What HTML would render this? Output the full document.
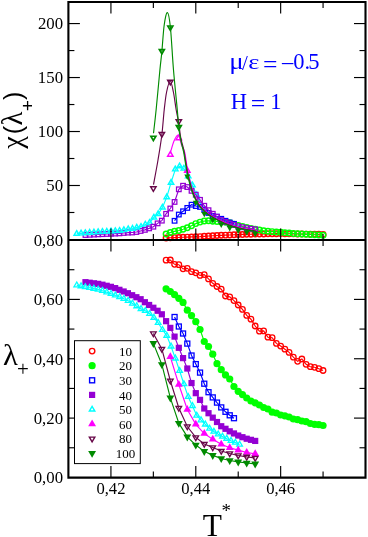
<!DOCTYPE html>
<html><head><meta charset="utf-8"><title>plot</title>
<style>html,body{margin:0;padding:0;background:#fff;width:368px;height:537px;overflow:hidden}svg{display:block}</style>
</head><body>
<svg width="368" height="537" viewBox="0 0 368 537">
<rect width="368" height="537" fill="#fff"/>
<g><path d="M166.09 237.96 L170.33 237.79 L174.57 237.62 L178.82 237.45 L183.06 237.28 L187.3 237.11 L191.54 236.94 L195.79 236.77 L200.03 236.6 L204.27 236.32 L208.52 236.03 L212.76 235.75 L217 235.51 L221.24 235.33 L225.49 235.14 L229.73 234.95 L233.97 234.77 L238.22 234.58 L242.46 234.44 L246.7 234.33 L250.94 234.23 L255.19 234.12 L259.43 234.01 L263.67 233.93 L267.92 233.84 L272.16 233.76 L276.4 233.67 L280.65 233.61 L284.89 233.7 L289.13 233.78 L293.37 233.87 L297.62 233.95 L301.86 234.03 L306.1 234.1 L310.35 234.17 L314.59 234.24 L318.83 234.31 L323.07 234.38" fill="none" stroke="#ff0000" stroke-width="1.15"/>
<circle cx="166.09" cy="237.96" r="2.75" fill="none" stroke="#ff0000" stroke-width="1.45"/>
<circle cx="170.33" cy="237.79" r="2.75" fill="none" stroke="#ff0000" stroke-width="1.45"/>
<circle cx="174.57" cy="237.62" r="2.75" fill="none" stroke="#ff0000" stroke-width="1.45"/>
<circle cx="178.82" cy="237.45" r="2.75" fill="none" stroke="#ff0000" stroke-width="1.45"/>
<circle cx="183.06" cy="237.28" r="2.75" fill="none" stroke="#ff0000" stroke-width="1.45"/>
<circle cx="187.3" cy="237.11" r="2.75" fill="none" stroke="#ff0000" stroke-width="1.45"/>
<circle cx="191.54" cy="236.94" r="2.75" fill="none" stroke="#ff0000" stroke-width="1.45"/>
<circle cx="195.79" cy="236.77" r="2.75" fill="none" stroke="#ff0000" stroke-width="1.45"/>
<circle cx="200.03" cy="236.6" r="2.75" fill="none" stroke="#ff0000" stroke-width="1.45"/>
<circle cx="204.27" cy="236.32" r="2.75" fill="none" stroke="#ff0000" stroke-width="1.45"/>
<circle cx="208.52" cy="236.03" r="2.75" fill="none" stroke="#ff0000" stroke-width="1.45"/>
<circle cx="212.76" cy="235.75" r="2.75" fill="none" stroke="#ff0000" stroke-width="1.45"/>
<circle cx="217" cy="235.51" r="2.75" fill="none" stroke="#ff0000" stroke-width="1.45"/>
<circle cx="221.24" cy="235.33" r="2.75" fill="none" stroke="#ff0000" stroke-width="1.45"/>
<circle cx="225.49" cy="235.14" r="2.75" fill="none" stroke="#ff0000" stroke-width="1.45"/>
<circle cx="229.73" cy="234.95" r="2.75" fill="none" stroke="#ff0000" stroke-width="1.45"/>
<circle cx="233.97" cy="234.77" r="2.75" fill="none" stroke="#ff0000" stroke-width="1.45"/>
<circle cx="238.22" cy="234.58" r="2.75" fill="none" stroke="#ff0000" stroke-width="1.45"/>
<circle cx="242.46" cy="234.44" r="2.75" fill="none" stroke="#ff0000" stroke-width="1.45"/>
<circle cx="246.7" cy="234.33" r="2.75" fill="none" stroke="#ff0000" stroke-width="1.45"/>
<circle cx="250.94" cy="234.23" r="2.75" fill="none" stroke="#ff0000" stroke-width="1.45"/>
<circle cx="255.19" cy="234.12" r="2.75" fill="none" stroke="#ff0000" stroke-width="1.45"/>
<circle cx="259.43" cy="234.01" r="2.75" fill="none" stroke="#ff0000" stroke-width="1.45"/>
<circle cx="263.67" cy="233.93" r="2.75" fill="none" stroke="#ff0000" stroke-width="1.45"/>
<circle cx="267.92" cy="233.84" r="2.75" fill="none" stroke="#ff0000" stroke-width="1.45"/>
<circle cx="272.16" cy="233.76" r="2.75" fill="none" stroke="#ff0000" stroke-width="1.45"/>
<circle cx="276.4" cy="233.67" r="2.75" fill="none" stroke="#ff0000" stroke-width="1.45"/>
<circle cx="280.65" cy="233.61" r="2.75" fill="none" stroke="#ff0000" stroke-width="1.45"/>
<circle cx="284.89" cy="233.7" r="2.75" fill="none" stroke="#ff0000" stroke-width="1.45"/>
<circle cx="289.13" cy="233.78" r="2.75" fill="none" stroke="#ff0000" stroke-width="1.45"/>
<circle cx="293.37" cy="233.87" r="2.75" fill="none" stroke="#ff0000" stroke-width="1.45"/>
<circle cx="297.62" cy="233.95" r="2.75" fill="none" stroke="#ff0000" stroke-width="1.45"/>
<circle cx="301.86" cy="234.03" r="2.75" fill="none" stroke="#ff0000" stroke-width="1.45"/>
<circle cx="306.1" cy="234.1" r="2.75" fill="none" stroke="#ff0000" stroke-width="1.45"/>
<circle cx="310.35" cy="234.17" r="2.75" fill="none" stroke="#ff0000" stroke-width="1.45"/>
<circle cx="314.59" cy="234.24" r="2.75" fill="none" stroke="#ff0000" stroke-width="1.45"/>
<circle cx="318.83" cy="234.31" r="2.75" fill="none" stroke="#ff0000" stroke-width="1.45"/>
<circle cx="323.07" cy="234.38" r="2.75" fill="none" stroke="#ff0000" stroke-width="1.45"/>
<path d="M166.09 234.06 L170.33 232.47 L174.57 231.32 L178.82 230.44 L183.06 229.3 L187.3 227.84 L191.54 225.7 L195.79 223.61 L200.03 222.12 L204.27 221.06 L208.52 220.8 L212.76 221.2 L217 221.5 L221.24 221.92 L225.49 222.23 L229.73 222.8 L233.97 224.1 L238.22 225.44 L242.46 226.47 L246.7 227.57 L250.94 228.45 L255.19 229.28 L259.43 230.09 L263.67 230.72 L267.92 231.25 L272.16 231.63 L276.4 231.95 L280.65 232.3 L284.89 232.66 L289.13 233.04 L293.37 233.41 L297.62 233.79 L301.86 234.09 L306.1 234.31 L310.35 234.52 L314.59 234.73 L318.83 234.95 L323.07 235.16" fill="none" stroke="#00ff00" stroke-width="1.15"/>
<circle cx="166.09" cy="234.06" r="2.75" fill="none" stroke="#00ff00" stroke-width="1.45"/>
<circle cx="170.33" cy="232.47" r="2.75" fill="none" stroke="#00ff00" stroke-width="1.45"/>
<circle cx="174.57" cy="231.32" r="2.75" fill="none" stroke="#00ff00" stroke-width="1.45"/>
<circle cx="178.82" cy="230.44" r="2.75" fill="none" stroke="#00ff00" stroke-width="1.45"/>
<circle cx="183.06" cy="229.3" r="2.75" fill="none" stroke="#00ff00" stroke-width="1.45"/>
<circle cx="187.3" cy="227.84" r="2.75" fill="none" stroke="#00ff00" stroke-width="1.45"/>
<circle cx="191.54" cy="225.7" r="2.75" fill="none" stroke="#00ff00" stroke-width="1.45"/>
<circle cx="195.79" cy="223.61" r="2.75" fill="none" stroke="#00ff00" stroke-width="1.45"/>
<circle cx="200.03" cy="222.12" r="2.75" fill="none" stroke="#00ff00" stroke-width="1.45"/>
<circle cx="204.27" cy="221.06" r="2.75" fill="none" stroke="#00ff00" stroke-width="1.45"/>
<circle cx="208.52" cy="220.8" r="2.75" fill="none" stroke="#00ff00" stroke-width="1.45"/>
<circle cx="212.76" cy="221.2" r="2.75" fill="none" stroke="#00ff00" stroke-width="1.45"/>
<circle cx="217" cy="221.5" r="2.75" fill="none" stroke="#00ff00" stroke-width="1.45"/>
<circle cx="221.24" cy="221.92" r="2.75" fill="none" stroke="#00ff00" stroke-width="1.45"/>
<circle cx="225.49" cy="222.23" r="2.75" fill="none" stroke="#00ff00" stroke-width="1.45"/>
<circle cx="229.73" cy="222.8" r="2.75" fill="none" stroke="#00ff00" stroke-width="1.45"/>
<circle cx="233.97" cy="224.1" r="2.75" fill="none" stroke="#00ff00" stroke-width="1.45"/>
<circle cx="238.22" cy="225.44" r="2.75" fill="none" stroke="#00ff00" stroke-width="1.45"/>
<circle cx="242.46" cy="226.47" r="2.75" fill="none" stroke="#00ff00" stroke-width="1.45"/>
<circle cx="246.7" cy="227.57" r="2.75" fill="none" stroke="#00ff00" stroke-width="1.45"/>
<circle cx="250.94" cy="228.45" r="2.75" fill="none" stroke="#00ff00" stroke-width="1.45"/>
<circle cx="255.19" cy="229.28" r="2.75" fill="none" stroke="#00ff00" stroke-width="1.45"/>
<circle cx="259.43" cy="230.09" r="2.75" fill="none" stroke="#00ff00" stroke-width="1.45"/>
<circle cx="263.67" cy="230.72" r="2.75" fill="none" stroke="#00ff00" stroke-width="1.45"/>
<circle cx="267.92" cy="231.25" r="2.75" fill="none" stroke="#00ff00" stroke-width="1.45"/>
<circle cx="272.16" cy="231.63" r="2.75" fill="none" stroke="#00ff00" stroke-width="1.45"/>
<circle cx="276.4" cy="231.95" r="2.75" fill="none" stroke="#00ff00" stroke-width="1.45"/>
<circle cx="280.65" cy="232.3" r="2.75" fill="none" stroke="#00ff00" stroke-width="1.45"/>
<circle cx="284.89" cy="232.66" r="2.75" fill="none" stroke="#00ff00" stroke-width="1.45"/>
<circle cx="289.13" cy="233.04" r="2.75" fill="none" stroke="#00ff00" stroke-width="1.45"/>
<circle cx="293.37" cy="233.41" r="2.75" fill="none" stroke="#00ff00" stroke-width="1.45"/>
<circle cx="297.62" cy="233.79" r="2.75" fill="none" stroke="#00ff00" stroke-width="1.45"/>
<circle cx="301.86" cy="234.09" r="2.75" fill="none" stroke="#00ff00" stroke-width="1.45"/>
<circle cx="306.1" cy="234.31" r="2.75" fill="none" stroke="#00ff00" stroke-width="1.45"/>
<circle cx="310.35" cy="234.52" r="2.75" fill="none" stroke="#00ff00" stroke-width="1.45"/>
<circle cx="314.59" cy="234.73" r="2.75" fill="none" stroke="#00ff00" stroke-width="1.45"/>
<circle cx="318.83" cy="234.95" r="2.75" fill="none" stroke="#00ff00" stroke-width="1.45"/>
<circle cx="323.07" cy="235.16" r="2.75" fill="none" stroke="#00ff00" stroke-width="1.45"/>
<path d="M76.75 233.68 L81.04 233.33 L85.32 232.98 L89.61 232.63 L93.89 232.34 L98.18 232.06 L102.46 231.82 L106.75 231.58 L111.03 231.32 L115.32 231.01 L119.61 230.7 L123.89 229.94 L128.18 229.08 L132.46 228.62 L136.75 227.51 L141.03 226.68 L145.32 224.46 L149.6 222.8 L153.89 217.44 L158.18 213.99 L162.46 207.47 L166.75 197.12 L171.03 182.61 L175.32 169.32 L179.6 166.28 L183.89 168.44 L188.17 176.22 L192.46 185.25 L196.74 195.14 L201.03 204.43 L205.32 209.32 L209.6 212.94 L213.89 215.63 L218.17 218.04 L222.46 220.15 L226.74 222.13 L231.03 223.71 L235.31 225 L239.6 226.2" fill="none" stroke="#00ffff" stroke-width="1.15" stroke-linejoin="round"/>
<path d="M141.03 223.59 L138.34 228.23 L143.73 228.23 Z" fill="none" stroke="#00ffff" stroke-width="1.45" stroke-linejoin="miter"/>
<path d="M145.32 221.36 L142.62 226 L148.01 226 Z" fill="none" stroke="#00ffff" stroke-width="1.45" stroke-linejoin="miter"/>
<path d="M149.6 219.71 L146.91 224.35 L152.3 224.35 Z" fill="none" stroke="#00ffff" stroke-width="1.45" stroke-linejoin="miter"/>
<path d="M153.89 214.34 L151.2 218.98 L156.58 218.98 Z" fill="none" stroke="#00ffff" stroke-width="1.45" stroke-linejoin="miter"/>
<path d="M158.18 210.9 L155.48 215.53 L160.87 215.53 Z" fill="none" stroke="#00ffff" stroke-width="1.45" stroke-linejoin="miter"/>
<path d="M162.46 204.37 L159.77 209.01 L165.15 209.01 Z" fill="none" stroke="#00ffff" stroke-width="1.45" stroke-linejoin="miter"/>
<path d="M166.75 194.03 L164.05 198.67 L169.44 198.67 Z" fill="none" stroke="#00ffff" stroke-width="1.45" stroke-linejoin="miter"/>
<path d="M171.03 179.52 L168.34 184.16 L173.73 184.16 Z" fill="none" stroke="#00ffff" stroke-width="1.45" stroke-linejoin="miter"/>
<path d="M175.32 166.22 L172.62 170.86 L178.01 170.86 Z" fill="none" stroke="#00ffff" stroke-width="1.45" stroke-linejoin="miter"/>
<path d="M179.6 163.19 L176.91 167.82 L182.3 167.82 Z" fill="none" stroke="#00ffff" stroke-width="1.45" stroke-linejoin="miter"/>
<path d="M183.89 165.35 L181.19 169.99 L186.58 169.99 Z" fill="none" stroke="#00ffff" stroke-width="1.45" stroke-linejoin="miter"/>
<path d="M188.17 173.13 L185.48 177.77 L190.87 177.77 Z" fill="none" stroke="#00ffff" stroke-width="1.45" stroke-linejoin="miter"/>
<path d="M192.46 182.16 L189.77 186.79 L195.15 186.79 Z" fill="none" stroke="#00ffff" stroke-width="1.45" stroke-linejoin="miter"/>
<path d="M196.74 192.05 L194.05 196.69 L199.44 196.69 Z" fill="none" stroke="#00ffff" stroke-width="1.45" stroke-linejoin="miter"/>
<path d="M174.57 220.8 L178.82 214.56 L183.06 211.29 L187.3 207.92 L191.54 204.68 L195.79 206.04 L200.03 206.94 L204.27 209.64 L208.52 212.95 L212.76 215.89 L217 216.65 L221.24 218.81 L225.49 220.79 L229.73 222.48 L233.97 223.87" fill="none" stroke="#0000ff" stroke-width="1.15"/>
<rect x="172.27" y="218.5" width="4.6" height="4.6" fill="none" stroke="#0000ff" stroke-width="1.25"/>
<rect x="176.52" y="212.26" width="4.6" height="4.6" fill="none" stroke="#0000ff" stroke-width="1.25"/>
<rect x="180.76" y="208.99" width="4.6" height="4.6" fill="none" stroke="#0000ff" stroke-width="1.25"/>
<rect x="185" y="205.62" width="4.6" height="4.6" fill="none" stroke="#0000ff" stroke-width="1.25"/>
<rect x="189.24" y="202.38" width="4.6" height="4.6" fill="none" stroke="#0000ff" stroke-width="1.25"/>
<rect x="193.49" y="203.74" width="4.6" height="4.6" fill="none" stroke="#0000ff" stroke-width="1.25"/>
<rect x="197.73" y="204.64" width="4.6" height="4.6" fill="none" stroke="#0000ff" stroke-width="1.25"/>
<rect x="201.97" y="207.34" width="4.6" height="4.6" fill="none" stroke="#0000ff" stroke-width="1.25"/>
<rect x="206.22" y="210.65" width="4.6" height="4.6" fill="none" stroke="#0000ff" stroke-width="1.25"/>
<rect x="210.46" y="213.59" width="4.6" height="4.6" fill="none" stroke="#0000ff" stroke-width="1.25"/>
<rect x="214.7" y="214.35" width="4.6" height="4.6" fill="none" stroke="#0000ff" stroke-width="1.25"/>
<rect x="218.94" y="216.51" width="4.6" height="4.6" fill="none" stroke="#0000ff" stroke-width="1.25"/>
<rect x="223.19" y="218.49" width="4.6" height="4.6" fill="none" stroke="#0000ff" stroke-width="1.25"/>
<rect x="227.43" y="220.18" width="4.6" height="4.6" fill="none" stroke="#0000ff" stroke-width="1.25"/>
<rect x="231.67" y="221.57" width="4.6" height="4.6" fill="none" stroke="#0000ff" stroke-width="1.25"/>
<path d="M85.47 235 L89.71 234.78 L93.96 234.56 L98.2 234.35 L102.44 234.15 L106.69 233.96 L110.93 233.77 L115.17 233.58 L119.41 233.37 L123.66 232.96 L127.9 232.6 L132.14 232.5 L136.39 232.01 L140.63 230.97 L144.87 229.88 L149.12 228.38 L153.36 226.71 L157.6 223.38 L161.84 220.66 L166.09 213.82 L170.33 208.49 L174.57 201.94 L178.82 189.32 L183.06 185.74 L187.3 187.05 L191.54 190.84 L195.79 194.69 L200.03 199.84 L204.27 205.76 L208.52 210.21 L212.76 213.77 L217 216.8 L221.24 220.02 L225.49 222 L229.73 223.66 L233.97 225.02 L238.22 226.28 L242.46 227.24 L246.7 228.11 L250.94 228.77 L255.19 229.43" fill="none" stroke="#9400d3" stroke-width="1.15"/>
<rect x="83.17" y="232.7" width="4.6" height="4.6" fill="none" stroke="#9400d3" stroke-width="1.25"/>
<rect x="87.41" y="232.48" width="4.6" height="4.6" fill="none" stroke="#9400d3" stroke-width="1.25"/>
<rect x="91.66" y="232.26" width="4.6" height="4.6" fill="none" stroke="#9400d3" stroke-width="1.25"/>
<rect x="95.9" y="232.05" width="4.6" height="4.6" fill="none" stroke="#9400d3" stroke-width="1.25"/>
<rect x="100.14" y="231.85" width="4.6" height="4.6" fill="none" stroke="#9400d3" stroke-width="1.25"/>
<rect x="104.39" y="231.66" width="4.6" height="4.6" fill="none" stroke="#9400d3" stroke-width="1.25"/>
<rect x="108.63" y="231.47" width="4.6" height="4.6" fill="none" stroke="#9400d3" stroke-width="1.25"/>
<rect x="112.87" y="231.28" width="4.6" height="4.6" fill="none" stroke="#9400d3" stroke-width="1.25"/>
<rect x="117.11" y="231.07" width="4.6" height="4.6" fill="none" stroke="#9400d3" stroke-width="1.25"/>
<rect x="121.36" y="230.66" width="4.6" height="4.6" fill="none" stroke="#9400d3" stroke-width="1.25"/>
<rect x="125.6" y="230.3" width="4.6" height="4.6" fill="none" stroke="#9400d3" stroke-width="1.25"/>
<rect x="129.84" y="230.2" width="4.6" height="4.6" fill="none" stroke="#9400d3" stroke-width="1.25"/>
<rect x="134.09" y="229.71" width="4.6" height="4.6" fill="none" stroke="#9400d3" stroke-width="1.25"/>
<rect x="138.33" y="228.67" width="4.6" height="4.6" fill="none" stroke="#9400d3" stroke-width="1.25"/>
<rect x="142.57" y="227.58" width="4.6" height="4.6" fill="none" stroke="#9400d3" stroke-width="1.25"/>
<rect x="146.82" y="226.08" width="4.6" height="4.6" fill="none" stroke="#9400d3" stroke-width="1.25"/>
<rect x="151.06" y="224.41" width="4.6" height="4.6" fill="none" stroke="#9400d3" stroke-width="1.25"/>
<rect x="155.3" y="221.08" width="4.6" height="4.6" fill="none" stroke="#9400d3" stroke-width="1.25"/>
<rect x="159.54" y="218.36" width="4.6" height="4.6" fill="none" stroke="#9400d3" stroke-width="1.25"/>
<rect x="163.79" y="211.52" width="4.6" height="4.6" fill="none" stroke="#9400d3" stroke-width="1.25"/>
<rect x="168.03" y="206.19" width="4.6" height="4.6" fill="none" stroke="#9400d3" stroke-width="1.25"/>
<rect x="172.27" y="199.64" width="4.6" height="4.6" fill="none" stroke="#9400d3" stroke-width="1.25"/>
<rect x="176.52" y="187.02" width="4.6" height="4.6" fill="none" stroke="#9400d3" stroke-width="1.25"/>
<rect x="180.76" y="183.44" width="4.6" height="4.6" fill="none" stroke="#9400d3" stroke-width="1.25"/>
<rect x="185" y="184.75" width="4.6" height="4.6" fill="none" stroke="#9400d3" stroke-width="1.25"/>
<rect x="189.24" y="188.54" width="4.6" height="4.6" fill="none" stroke="#9400d3" stroke-width="1.25"/>
<rect x="193.49" y="192.39" width="4.6" height="4.6" fill="none" stroke="#9400d3" stroke-width="1.25"/>
<rect x="197.73" y="197.54" width="4.6" height="4.6" fill="none" stroke="#9400d3" stroke-width="1.25"/>
<rect x="201.97" y="203.46" width="4.6" height="4.6" fill="none" stroke="#9400d3" stroke-width="1.25"/>
<rect x="206.22" y="207.91" width="4.6" height="4.6" fill="none" stroke="#9400d3" stroke-width="1.25"/>
<rect x="210.46" y="211.47" width="4.6" height="4.6" fill="none" stroke="#9400d3" stroke-width="1.25"/>
<rect x="214.7" y="214.5" width="4.6" height="4.6" fill="none" stroke="#9400d3" stroke-width="1.25"/>
<rect x="218.94" y="217.72" width="4.6" height="4.6" fill="none" stroke="#9400d3" stroke-width="1.25"/>
<rect x="223.19" y="219.7" width="4.6" height="4.6" fill="none" stroke="#9400d3" stroke-width="1.25"/>
<rect x="227.43" y="221.36" width="4.6" height="4.6" fill="none" stroke="#9400d3" stroke-width="1.25"/>
<rect x="231.67" y="222.72" width="4.6" height="4.6" fill="none" stroke="#9400d3" stroke-width="1.25"/>
<rect x="235.92" y="223.98" width="4.6" height="4.6" fill="none" stroke="#9400d3" stroke-width="1.25"/>
<rect x="240.16" y="224.94" width="4.6" height="4.6" fill="none" stroke="#9400d3" stroke-width="1.25"/>
<rect x="244.4" y="225.81" width="4.6" height="4.6" fill="none" stroke="#9400d3" stroke-width="1.25"/>
<rect x="248.64" y="226.47" width="4.6" height="4.6" fill="none" stroke="#9400d3" stroke-width="1.25"/>
<rect x="252.89" y="227.13" width="4.6" height="4.6" fill="none" stroke="#9400d3" stroke-width="1.25"/>
<path d="M76.75 230.59 L74.06 235.23 L79.44 235.23 Z" fill="none" stroke="#00ffff" stroke-width="1.45" stroke-linejoin="miter"/>
<path d="M81.04 230.24 L78.34 234.88 L83.73 234.88 Z" fill="none" stroke="#00ffff" stroke-width="1.45" stroke-linejoin="miter"/>
<path d="M85.32 229.89 L82.63 234.53 L88.02 234.53 Z" fill="none" stroke="#00ffff" stroke-width="1.45" stroke-linejoin="miter"/>
<path d="M89.61 229.54 L86.91 234.18 L92.3 234.18 Z" fill="none" stroke="#00ffff" stroke-width="1.45" stroke-linejoin="miter"/>
<path d="M93.89 229.25 L91.2 233.89 L96.59 233.89 Z" fill="none" stroke="#00ffff" stroke-width="1.45" stroke-linejoin="miter"/>
<path d="M98.18 228.97 L95.48 233.61 L100.87 233.61 Z" fill="none" stroke="#00ffff" stroke-width="1.45" stroke-linejoin="miter"/>
<path d="M102.46 228.73 L99.77 233.37 L105.16 233.37 Z" fill="none" stroke="#00ffff" stroke-width="1.45" stroke-linejoin="miter"/>
<path d="M106.75 228.49 L104.05 233.13 L109.44 233.13 Z" fill="none" stroke="#00ffff" stroke-width="1.45" stroke-linejoin="miter"/>
<path d="M111.03 228.23 L108.34 232.87 L113.73 232.87 Z" fill="none" stroke="#00ffff" stroke-width="1.45" stroke-linejoin="miter"/>
<path d="M115.32 227.92 L112.63 232.56 L118.01 232.56 Z" fill="none" stroke="#00ffff" stroke-width="1.45" stroke-linejoin="miter"/>
<path d="M119.61 227.61 L116.91 232.25 L122.3 232.25 Z" fill="none" stroke="#00ffff" stroke-width="1.45" stroke-linejoin="miter"/>
<path d="M123.89 226.85 L121.2 231.49 L126.58 231.49 Z" fill="none" stroke="#00ffff" stroke-width="1.45" stroke-linejoin="miter"/>
<path d="M128.18 225.99 L125.48 230.63 L130.87 230.63 Z" fill="none" stroke="#00ffff" stroke-width="1.45" stroke-linejoin="miter"/>
<path d="M132.46 225.53 L129.77 230.17 L135.16 230.17 Z" fill="none" stroke="#00ffff" stroke-width="1.45" stroke-linejoin="miter"/>
<path d="M136.75 224.42 L134.05 229.06 L139.44 229.06 Z" fill="none" stroke="#00ffff" stroke-width="1.45" stroke-linejoin="miter"/>
<path d="M170.2 153.5 C170.83 151.42 172.65 144.05 174 141 C175.35 137.95 177.03 134.53 178.3 135.2 C179.57 135.87 180.54 142.18 181.6 145 C182.66 147.82 183.78 148.68 184.65 152.11 C185.53 155.53 186.12 161.38 186.85 165.53 C187.57 169.67 188.3 173.72 189.02 176.99 C189.75 180.26 190.48 182.58 191.21 185.16 C191.94 187.74 192.67 190.42 193.4 192.47 C194.12 194.52 194.83 195.91 195.55 197.45 C196.27 198.99 197 200.44 197.71 201.69 C198.42 202.95 199.09 203.99 199.81 204.99 C200.52 205.99 201.28 206.85 202 207.69 C202.72 208.52 203.43 209.26 204.14 209.98 C204.84 210.69 205.51 211.37 206.23 211.98 C206.94 212.6 207.7 213.15 208.42 213.67 C209.14 214.19 209.81 214.65 210.52 215.12 C211.24 215.58 211.99 216 212.72 216.45 C213.45 216.89 214.19 217.37 214.91 217.78 C215.64 218.19 216.32 218.54 217.05 218.92 C217.77 219.3 218.51 219.68 219.24 220.04 C219.97 220.4 220.68 220.75 221.4 221.09 C222.13 221.44 222.87 221.77 223.6 222.12 C224.33 222.46 225.07 222.83 225.79 223.14 C226.51 223.44 227.19 223.68 227.91 223.95 C228.63 224.22 229.38 224.5 230.11 224.75 C230.83 225 231.52 225.22 232.24 225.44 C232.96 225.67 233.7 225.88 234.44 226.1 C235.17 226.31 235.91 226.54 236.63 226.75 C237.35 226.96 238.04 227.16 238.76 227.34 C239.48 227.52 240.22 227.67 240.95 227.83 C241.68 227.99 242.42 228.16 243.15 228.32 C243.87 228.48 244.6 228.66 245.32 228.8 C246.04 228.94 246.75 229.03 247.47 229.14 C248.2 229.26 248.94 229.37 249.67 229.48 C250.4 229.6 251.13 229.71 251.86 229.83 C252.6 229.94 253.33 230.06 254.06 230.17 C254.79 230.28 255.89 230.45 256.25 230.51 C256.62 230.57 256.25 230.51 256.25 230.51" fill="none" stroke="#ff00ff" stroke-width="1.15" stroke-linejoin="round"/>
<path d="M170.33 151.51 L167.64 156.15 L173.02 156.15 Z" fill="none" stroke="#ff00ff" stroke-width="1.45" stroke-linejoin="miter"/>
<path d="M178.82 135.01 L176.12 139.65 L181.51 139.65 Z" fill="none" stroke="#ff00ff" stroke-width="1.45" stroke-linejoin="miter"/>
<path d="M187.3 167.51 L184.61 172.15 L190 172.15 Z" fill="none" stroke="#ff00ff" stroke-width="1.45" stroke-linejoin="miter"/>
<path d="M153.5 184.6 C154.25 180.5 156.62 168.23 158 160 C159.38 151.77 160.77 143.53 161.8 135.2 C162.83 126.87 163.4 117.2 164.2 110 C165 102.8 165.6 96.83 166.6 92 C167.6 87.17 169.07 81 170.2 81 C171.33 81 172.4 87.17 173.4 92 C174.4 96.83 175.33 104.95 176.2 110 C177.07 115.05 177.83 117.63 178.6 122.3 C179.37 126.97 179.93 133.4 180.8 138 C181.67 142.6 182.93 145.67 183.79 149.92 C184.66 154.17 185.26 159.18 185.99 163.47 C186.72 167.77 187.45 172.27 188.18 175.7 C188.91 179.14 189.63 181.46 190.37 184.08 C191.1 186.7 191.83 189.29 192.56 191.42 C193.29 193.54 194.01 195.19 194.73 196.84 C195.46 198.48 196.18 199.96 196.91 201.29 C197.63 202.63 198.33 203.81 199.05 204.86 C199.78 205.9 200.52 206.7 201.25 207.55 C201.97 208.4 202.69 209.19 203.41 209.95 C204.13 210.71 204.84 211.46 205.56 212.1 C206.29 212.74 207.03 213.25 207.75 213.78 C208.47 214.32 209.17 214.84 209.9 215.32 C210.62 215.8 211.36 216.21 212.09 216.65 C212.83 217.1 213.56 217.56 214.29 217.98 C215.02 218.41 215.73 218.79 216.45 219.18 C217.18 219.57 217.92 219.94 218.65 220.3 C219.38 220.67 220.1 221.02 220.83 221.37 C221.56 221.72 222.29 222.06 223.02 222.4 C223.75 222.74 224.49 223.11 225.22 223.42 C225.94 223.74 226.65 224 227.37 224.28 C228.1 224.56 228.84 224.83 229.57 225.09 C230.29 225.34 231.01 225.58 231.73 225.81 C232.46 226.04 233.2 226.25 233.93 226.47 C234.66 226.68 235.39 226.91 236.12 227.12 C236.85 227.33 237.57 227.57 238.29 227.75 C239.02 227.94 239.75 228.08 240.48 228.24 C241.21 228.4 241.94 228.56 242.67 228.73 C243.4 228.89 244.14 229.07 244.87 229.21 C245.59 229.36 246.3 229.46 247.03 229.58 C247.76 229.7 248.49 229.81 249.23 229.92 C249.96 230.04 250.69 230.15 251.42 230.26 C252.15 230.38 252.88 230.49 253.62 230.61 C254.35 230.72 255.38 230.88 255.81 230.95 C256.24 231.02 256.12 231 256.18 231.01" fill="none" stroke="#670748" stroke-width="1.15" stroke-linejoin="round"/>
<path d="M153.36 191.39 L150.66 186.75 L156.05 186.75 Z" fill="none" stroke="#670748" stroke-width="1.45" stroke-linejoin="miter"/>
<path d="M161.84 137.19 L159.15 132.55 L164.54 132.55 Z" fill="none" stroke="#670748" stroke-width="1.45" stroke-linejoin="miter"/>
<path d="M170.33 84.79 L167.64 80.15 L173.02 80.15 Z" fill="none" stroke="#670748" stroke-width="1.45" stroke-linejoin="miter"/>
<path d="M178.82 124.29 L176.12 119.65 L181.51 119.65 Z" fill="none" stroke="#670748" stroke-width="1.45" stroke-linejoin="miter"/>
<path d="M153.5 133.3 C153.93 129.42 155.03 120.55 156.1 110 C157.17 99.45 158.95 79.63 159.9 70 C160.85 60.37 161.08 59.7 161.8 52.2 C162.52 44.7 163.27 31.62 164.2 25 C165.13 18.38 166.37 12.12 167.4 12.5 C168.43 12.88 169.38 17.72 170.4 27.3 C171.42 36.88 172.35 56.22 173.5 70 C174.65 83.78 176.4 100.17 177.3 110 C178.2 119.83 178.25 123.67 178.9 129 C179.55 134.33 180.41 138.12 181.2 142 C181.99 145.88 182.89 148.32 183.67 152.26 C184.44 156.21 185.13 161.53 185.86 165.7 C186.59 169.86 187.32 173.95 188.06 177.24 C188.79 180.53 189.52 182.85 190.25 185.44 C190.98 188.03 191.71 190.71 192.45 192.78 C193.18 194.85 193.91 196.29 194.64 197.86 C195.37 199.42 196.1 200.89 196.84 202.19 C197.57 203.48 198.3 204.6 199.03 205.62 C199.76 206.64 200.49 207.48 201.23 208.32 C201.96 209.16 202.69 209.93 203.42 210.67 C204.15 211.42 204.88 212.14 205.62 212.77 C206.35 213.41 207.08 213.93 207.81 214.46 C208.54 214.99 209.27 215.5 210.01 215.97 C210.74 216.44 211.47 216.86 212.2 217.3 C212.93 217.75 213.66 218.21 214.4 218.63 C215.13 219.05 215.86 219.43 216.59 219.81 C217.32 220.2 218.05 220.57 218.79 220.93 C219.52 221.3 220.25 221.65 220.98 222 C221.71 222.35 222.44 222.68 223.18 223.02 C223.91 223.36 224.64 223.74 225.37 224.05 C226.1 224.36 226.83 224.61 227.57 224.89 C228.3 225.16 229.03 225.44 229.76 225.69 C230.49 225.94 231.22 226.18 231.96 226.4 C232.69 226.63 233.42 226.84 234.15 227.06 C234.88 227.27 235.61 227.5 236.35 227.71 C237.08 227.92 237.81 228.14 238.54 228.32 C239.27 228.5 240 228.65 240.74 228.81 C241.47 228.97 242.2 229.13 242.93 229.3 C243.66 229.46 244.39 229.64 245.13 229.78 C245.86 229.92 246.59 230.02 247.32 230.13 C248.05 230.25 248.78 230.36 249.52 230.47 C250.25 230.59 250.98 230.7 251.71 230.82 C252.44 230.93 253.17 231.04 253.91 231.16 C254.64 231.27 255.73 231.44 256.1 231.5 C256.47 231.56 256.1 231.5 256.1 231.5" fill="none" stroke="#008b00" stroke-width="1.15" stroke-linejoin="round"/>
<path d="M153.36 140.49 L150.88 136.23 L155.84 136.23 Z" fill="none" stroke="#008b00" stroke-width="1.7" stroke-linejoin="miter"/>
<path d="M161.84 53.94 L159.37 49.68 L164.32 49.68 Z" fill="none" stroke="#008b00" stroke-width="1.7" stroke-linejoin="miter"/>
<path d="M170.33 30.24 L167.85 25.98 L172.81 25.98 Z" fill="none" stroke="#008b00" stroke-width="1.7" stroke-linejoin="miter"/>
<path d="M178.82 129.84 L176.34 125.58 L181.29 125.58 Z" fill="none" stroke="#008b00" stroke-width="1.7" stroke-linejoin="miter"/>
<path d="M187.3 179.92 L184.3 174.52 L190.3 174.52 Z" fill="#008b00"/>
<path d="M195.79 206.13 L192.79 200.73 L198.79 200.73 Z" fill="#008b00"/>
<path d="M204.27 217.35 L201.27 211.95 L207.27 211.95 Z" fill="#008b00"/>
<path d="M212.76 223.44 L209.76 218.04 L215.76 218.04 Z" fill="#008b00"/>
<path d="M221.24 227.92 L218.24 222.52 L224.24 222.52 Z" fill="#008b00"/>
<path d="M229.73 231.48 L226.73 226.08 L232.73 226.08 Z" fill="#008b00"/>
<path d="M238.22 234.05 L235.22 228.65 L241.22 228.65 Z" fill="#008b00"/>
<path d="M246.7 235.83 L243.7 230.43 L249.7 230.43 Z" fill="#008b00"/>
<path d="M255.19 237.16 L252.19 231.76 L258.19 231.76 Z" fill="#008b00"/></g>
<g><path d="M166.09 260.2 L170.33 260 L174.57 264.3 L178.82 264.7 L183.06 268.8 L187.3 268.3 L191.54 271.7 L195.79 272.8 L200.03 275.4 L204.27 274.6 L208.52 278.9 L212.76 283.3 L217 286.5 L221.24 289.2 L225.49 296 L229.73 296.9 L233.97 300.6 L238.22 305 L242.46 309.4 L246.7 315.4 L250.94 319.2 L255.19 326 L259.43 331.2 L263.67 330.9 L267.92 337.2 L272.16 337.7 L276.4 343.4 L280.65 346.1 L284.89 349.2 L289.13 352.4 L293.37 357.2 L297.62 361.3 L301.86 359 L306.1 364.3 L310.35 366.7 L314.59 367.3 L318.83 368.7 L323.07 370.5" fill="none" stroke="#ff0000" stroke-width="1.15"/>
<circle cx="166.09" cy="260.2" r="2.75" fill="none" stroke="#ff0000" stroke-width="1.3"/>
<circle cx="170.33" cy="260" r="2.75" fill="none" stroke="#ff0000" stroke-width="1.3"/>
<circle cx="174.57" cy="264.3" r="2.75" fill="none" stroke="#ff0000" stroke-width="1.3"/>
<circle cx="178.82" cy="264.7" r="2.75" fill="none" stroke="#ff0000" stroke-width="1.3"/>
<circle cx="183.06" cy="268.8" r="2.75" fill="none" stroke="#ff0000" stroke-width="1.3"/>
<circle cx="187.3" cy="268.3" r="2.75" fill="none" stroke="#ff0000" stroke-width="1.3"/>
<circle cx="191.54" cy="271.7" r="2.75" fill="none" stroke="#ff0000" stroke-width="1.3"/>
<circle cx="195.79" cy="272.8" r="2.75" fill="none" stroke="#ff0000" stroke-width="1.3"/>
<circle cx="200.03" cy="275.4" r="2.75" fill="none" stroke="#ff0000" stroke-width="1.3"/>
<circle cx="204.27" cy="274.6" r="2.75" fill="none" stroke="#ff0000" stroke-width="1.3"/>
<circle cx="208.52" cy="278.9" r="2.75" fill="none" stroke="#ff0000" stroke-width="1.3"/>
<circle cx="212.76" cy="283.3" r="2.75" fill="none" stroke="#ff0000" stroke-width="1.3"/>
<circle cx="217" cy="286.5" r="2.75" fill="none" stroke="#ff0000" stroke-width="1.3"/>
<circle cx="221.24" cy="289.2" r="2.75" fill="none" stroke="#ff0000" stroke-width="1.3"/>
<circle cx="225.49" cy="296" r="2.75" fill="none" stroke="#ff0000" stroke-width="1.3"/>
<circle cx="229.73" cy="296.9" r="2.75" fill="none" stroke="#ff0000" stroke-width="1.3"/>
<circle cx="233.97" cy="300.6" r="2.75" fill="none" stroke="#ff0000" stroke-width="1.3"/>
<circle cx="238.22" cy="305" r="2.75" fill="none" stroke="#ff0000" stroke-width="1.3"/>
<circle cx="242.46" cy="309.4" r="2.75" fill="none" stroke="#ff0000" stroke-width="1.3"/>
<circle cx="246.7" cy="315.4" r="2.75" fill="none" stroke="#ff0000" stroke-width="1.3"/>
<circle cx="250.94" cy="319.2" r="2.75" fill="none" stroke="#ff0000" stroke-width="1.3"/>
<circle cx="255.19" cy="326" r="2.75" fill="none" stroke="#ff0000" stroke-width="1.3"/>
<circle cx="259.43" cy="331.2" r="2.75" fill="none" stroke="#ff0000" stroke-width="1.3"/>
<circle cx="263.67" cy="330.9" r="2.75" fill="none" stroke="#ff0000" stroke-width="1.3"/>
<circle cx="267.92" cy="337.2" r="2.75" fill="none" stroke="#ff0000" stroke-width="1.3"/>
<circle cx="272.16" cy="337.7" r="2.75" fill="none" stroke="#ff0000" stroke-width="1.3"/>
<circle cx="276.4" cy="343.4" r="2.75" fill="none" stroke="#ff0000" stroke-width="1.3"/>
<circle cx="280.65" cy="346.1" r="2.75" fill="none" stroke="#ff0000" stroke-width="1.3"/>
<circle cx="284.89" cy="349.2" r="2.75" fill="none" stroke="#ff0000" stroke-width="1.3"/>
<circle cx="289.13" cy="352.4" r="2.75" fill="none" stroke="#ff0000" stroke-width="1.3"/>
<circle cx="293.37" cy="357.2" r="2.75" fill="none" stroke="#ff0000" stroke-width="1.3"/>
<circle cx="297.62" cy="361.3" r="2.75" fill="none" stroke="#ff0000" stroke-width="1.3"/>
<circle cx="301.86" cy="359" r="2.75" fill="none" stroke="#ff0000" stroke-width="1.3"/>
<circle cx="306.1" cy="364.3" r="2.75" fill="none" stroke="#ff0000" stroke-width="1.3"/>
<circle cx="310.35" cy="366.7" r="2.75" fill="none" stroke="#ff0000" stroke-width="1.3"/>
<circle cx="314.59" cy="367.3" r="2.75" fill="none" stroke="#ff0000" stroke-width="1.3"/>
<circle cx="318.83" cy="368.7" r="2.75" fill="none" stroke="#ff0000" stroke-width="1.3"/>
<circle cx="323.07" cy="370.5" r="2.75" fill="none" stroke="#ff0000" stroke-width="1.3"/>
<path d="M166.09 288.8 L170.33 291.5 L174.57 294.7 L178.82 298.3 L183.06 302.4 L187.3 310.2 L191.54 315.6 L195.79 321.7 L200.03 329.5 L204.27 341.5 L208.52 346.5 L212.76 354.2 L217 363.7 L221.24 369.7 L225.49 374.9 L229.73 379 L233.97 386.5 L238.22 391.3 L242.46 394.6 L246.7 398 L250.94 401 L255.19 402.8 L259.43 405 L263.67 407.5 L267.92 409 L272.16 412.2 L276.4 413 L280.65 415 L284.89 415.8 L289.13 417 L293.37 419 L297.62 419.7 L301.86 421 L306.1 421.7 L310.35 423.5 L314.59 424.3 L318.83 424.7 L323.07 425.5" fill="none" stroke="#00ff00" stroke-width="1.15"/>
<circle cx="166.09" cy="288.8" r="3.6" fill="#00ff00"/>
<circle cx="170.33" cy="291.5" r="3.6" fill="#00ff00"/>
<circle cx="174.57" cy="294.7" r="3.6" fill="#00ff00"/>
<circle cx="178.82" cy="298.3" r="3.6" fill="#00ff00"/>
<circle cx="183.06" cy="302.4" r="3.6" fill="#00ff00"/>
<circle cx="187.3" cy="310.2" r="3.6" fill="#00ff00"/>
<circle cx="191.54" cy="315.6" r="3.6" fill="#00ff00"/>
<circle cx="195.79" cy="321.7" r="3.6" fill="#00ff00"/>
<circle cx="200.03" cy="329.5" r="3.6" fill="#00ff00"/>
<circle cx="204.27" cy="341.5" r="3.6" fill="#00ff00"/>
<circle cx="208.52" cy="346.5" r="3.6" fill="#00ff00"/>
<circle cx="212.76" cy="354.2" r="3.6" fill="#00ff00"/>
<circle cx="217" cy="363.7" r="3.6" fill="#00ff00"/>
<circle cx="221.24" cy="369.7" r="3.6" fill="#00ff00"/>
<circle cx="225.49" cy="374.9" r="3.6" fill="#00ff00"/>
<circle cx="229.73" cy="379" r="3.6" fill="#00ff00"/>
<circle cx="233.97" cy="386.5" r="3.6" fill="#00ff00"/>
<circle cx="238.22" cy="391.3" r="3.6" fill="#00ff00"/>
<circle cx="242.46" cy="394.6" r="3.6" fill="#00ff00"/>
<circle cx="246.7" cy="398" r="3.6" fill="#00ff00"/>
<circle cx="250.94" cy="401" r="3.6" fill="#00ff00"/>
<circle cx="255.19" cy="402.8" r="3.6" fill="#00ff00"/>
<circle cx="259.43" cy="405" r="3.6" fill="#00ff00"/>
<circle cx="263.67" cy="407.5" r="3.6" fill="#00ff00"/>
<circle cx="267.92" cy="409" r="3.6" fill="#00ff00"/>
<circle cx="272.16" cy="412.2" r="3.6" fill="#00ff00"/>
<circle cx="276.4" cy="413" r="3.6" fill="#00ff00"/>
<circle cx="280.65" cy="415" r="3.6" fill="#00ff00"/>
<circle cx="284.89" cy="415.8" r="3.6" fill="#00ff00"/>
<circle cx="289.13" cy="417" r="3.6" fill="#00ff00"/>
<circle cx="293.37" cy="419" r="3.6" fill="#00ff00"/>
<circle cx="297.62" cy="419.7" r="3.6" fill="#00ff00"/>
<circle cx="301.86" cy="421" r="3.6" fill="#00ff00"/>
<circle cx="306.1" cy="421.7" r="3.6" fill="#00ff00"/>
<circle cx="310.35" cy="423.5" r="3.6" fill="#00ff00"/>
<circle cx="314.59" cy="424.3" r="3.6" fill="#00ff00"/>
<circle cx="318.83" cy="424.7" r="3.6" fill="#00ff00"/>
<circle cx="323.07" cy="425.5" r="3.6" fill="#00ff00"/>
<path d="M174.57 317 L178.82 326.5 L183.06 333.5 L187.3 343.6 L191.54 355.5 L195.79 364.1 L200.03 372.6 L204.27 383.7 L208.52 392.2 L212.76 397.4 L217 402.6 L221.24 407.4 L225.49 411.8 L229.73 415.3 L233.97 418.2" fill="none" stroke="#0000ff" stroke-width="1.15"/>
<rect x="172.07" y="314.5" width="5" height="5" fill="none" stroke="#0000ff" stroke-width="1.3"/>
<rect x="176.32" y="324" width="5" height="5" fill="none" stroke="#0000ff" stroke-width="1.3"/>
<rect x="180.56" y="331" width="5" height="5" fill="none" stroke="#0000ff" stroke-width="1.3"/>
<rect x="184.8" y="341.1" width="5" height="5" fill="none" stroke="#0000ff" stroke-width="1.3"/>
<rect x="189.04" y="353" width="5" height="5" fill="none" stroke="#0000ff" stroke-width="1.3"/>
<rect x="193.29" y="361.6" width="5" height="5" fill="none" stroke="#0000ff" stroke-width="1.3"/>
<rect x="197.53" y="370.1" width="5" height="5" fill="none" stroke="#0000ff" stroke-width="1.3"/>
<rect x="201.77" y="381.2" width="5" height="5" fill="none" stroke="#0000ff" stroke-width="1.3"/>
<rect x="206.02" y="389.7" width="5" height="5" fill="none" stroke="#0000ff" stroke-width="1.3"/>
<rect x="210.26" y="394.9" width="5" height="5" fill="none" stroke="#0000ff" stroke-width="1.3"/>
<rect x="214.5" y="400.1" width="5" height="5" fill="none" stroke="#0000ff" stroke-width="1.3"/>
<rect x="218.74" y="404.9" width="5" height="5" fill="none" stroke="#0000ff" stroke-width="1.3"/>
<rect x="222.99" y="409.3" width="5" height="5" fill="none" stroke="#0000ff" stroke-width="1.3"/>
<rect x="227.23" y="412.8" width="5" height="5" fill="none" stroke="#0000ff" stroke-width="1.3"/>
<rect x="231.47" y="415.7" width="5" height="5" fill="none" stroke="#0000ff" stroke-width="1.3"/>
<path d="M85.47 282.18 L89.71 282.74 L93.96 283.3 L98.2 283.86 L102.44 284.71 L106.69 285.77 L110.93 286.83 L115.17 288.12 L119.41 289.81 L123.66 291.49 L127.9 293.23 L132.14 295.23 L136.39 297.22 L140.63 299.22 L144.87 302.21 L149.12 304.97 L153.36 307.75 L157.6 310.76 L161.84 314.3 L166.09 321.18 L170.33 327.87 L174.57 336.62 L178.82 347.82 L183.06 358.12 L187.3 368.5 L191.54 383.04 L195.79 393.17 L200.03 399.87 L204.27 408.49 L208.52 413.22 L212.76 417.65 L217 422 L221.24 426.24 L225.49 428.8 L229.73 431.32 L233.97 433.46 L238.22 435.54 L242.46 437.2 L246.7 438.73 L250.94 439.83 L255.19 440.92" fill="none" stroke="#9400d3" stroke-width="1.15"/>
<rect x="82.37" y="279.08" width="6.2" height="6.2" fill="#9400d3"/>
<rect x="86.61" y="279.64" width="6.2" height="6.2" fill="#9400d3"/>
<rect x="90.86" y="280.2" width="6.2" height="6.2" fill="#9400d3"/>
<rect x="95.1" y="280.76" width="6.2" height="6.2" fill="#9400d3"/>
<rect x="99.34" y="281.61" width="6.2" height="6.2" fill="#9400d3"/>
<rect x="103.59" y="282.67" width="6.2" height="6.2" fill="#9400d3"/>
<rect x="107.83" y="283.73" width="6.2" height="6.2" fill="#9400d3"/>
<rect x="112.07" y="285.02" width="6.2" height="6.2" fill="#9400d3"/>
<rect x="116.31" y="286.71" width="6.2" height="6.2" fill="#9400d3"/>
<rect x="120.56" y="288.39" width="6.2" height="6.2" fill="#9400d3"/>
<rect x="124.8" y="290.13" width="6.2" height="6.2" fill="#9400d3"/>
<rect x="129.04" y="292.13" width="6.2" height="6.2" fill="#9400d3"/>
<rect x="133.29" y="294.12" width="6.2" height="6.2" fill="#9400d3"/>
<rect x="137.53" y="296.12" width="6.2" height="6.2" fill="#9400d3"/>
<rect x="141.77" y="299.11" width="6.2" height="6.2" fill="#9400d3"/>
<rect x="146.02" y="301.87" width="6.2" height="6.2" fill="#9400d3"/>
<rect x="150.26" y="304.65" width="6.2" height="6.2" fill="#9400d3"/>
<rect x="154.5" y="307.66" width="6.2" height="6.2" fill="#9400d3"/>
<rect x="158.74" y="311.2" width="6.2" height="6.2" fill="#9400d3"/>
<rect x="162.99" y="318.08" width="6.2" height="6.2" fill="#9400d3"/>
<rect x="167.23" y="324.77" width="6.2" height="6.2" fill="#9400d3"/>
<rect x="171.47" y="333.52" width="6.2" height="6.2" fill="#9400d3"/>
<rect x="175.72" y="344.72" width="6.2" height="6.2" fill="#9400d3"/>
<rect x="179.96" y="355.02" width="6.2" height="6.2" fill="#9400d3"/>
<rect x="184.2" y="365.4" width="6.2" height="6.2" fill="#9400d3"/>
<rect x="188.44" y="379.94" width="6.2" height="6.2" fill="#9400d3"/>
<rect x="192.69" y="390.07" width="6.2" height="6.2" fill="#9400d3"/>
<rect x="196.93" y="396.77" width="6.2" height="6.2" fill="#9400d3"/>
<rect x="201.17" y="405.39" width="6.2" height="6.2" fill="#9400d3"/>
<rect x="205.42" y="410.12" width="6.2" height="6.2" fill="#9400d3"/>
<rect x="209.66" y="414.55" width="6.2" height="6.2" fill="#9400d3"/>
<rect x="213.9" y="418.9" width="6.2" height="6.2" fill="#9400d3"/>
<rect x="218.14" y="423.14" width="6.2" height="6.2" fill="#9400d3"/>
<rect x="222.39" y="425.7" width="6.2" height="6.2" fill="#9400d3"/>
<rect x="226.63" y="428.22" width="6.2" height="6.2" fill="#9400d3"/>
<rect x="230.87" y="430.36" width="6.2" height="6.2" fill="#9400d3"/>
<rect x="235.12" y="432.44" width="6.2" height="6.2" fill="#9400d3"/>
<rect x="239.36" y="434.1" width="6.2" height="6.2" fill="#9400d3"/>
<rect x="243.6" y="435.63" width="6.2" height="6.2" fill="#9400d3"/>
<rect x="247.84" y="436.73" width="6.2" height="6.2" fill="#9400d3"/>
<rect x="252.09" y="437.82" width="6.2" height="6.2" fill="#9400d3"/>
<path d="M76.75 285.26 L81.04 286.11 L85.32 286.95 L89.61 287.8 L93.89 288.64 L98.18 289.49 L102.46 290.72 L106.75 292.23 L111.03 293.74 L115.32 295.33 L119.61 297.03 L123.89 298.74 L128.18 300.67 L132.46 303.41 L136.75 306.15 L141.03 308.89 L145.32 310.82 L149.6 313.81 L153.89 317.64 L158.18 322.76 L162.46 329.77 L166.75 335.64 L171.03 346.39 L175.32 358.39 L179.6 370.8 L183.89 384.1 L188.17 396.77 L192.46 405.89 L196.74 415.48 L201.03 420.16 L205.32 424.37 L209.6 428.45 L213.89 431.58 L218.17 434.23 L222.46 436.51 L226.74 438.64 L231.03 440.69 L235.31 442.55 L239.6 444.45" fill="none" stroke="#00ffff" stroke-width="1.15"/>
<path d="M76.75 282.02 L73.93 286.88 L79.57 286.88 Z" fill="none" stroke="#00ffff" stroke-width="1.3" stroke-linejoin="miter"/>
<path d="M81.04 282.87 L78.21 287.73 L83.86 287.73 Z" fill="none" stroke="#00ffff" stroke-width="1.3" stroke-linejoin="miter"/>
<path d="M85.32 283.71 L82.5 288.57 L88.14 288.57 Z" fill="none" stroke="#00ffff" stroke-width="1.3" stroke-linejoin="miter"/>
<path d="M89.61 284.56 L86.78 289.42 L92.43 289.42 Z" fill="none" stroke="#00ffff" stroke-width="1.3" stroke-linejoin="miter"/>
<path d="M93.89 285.4 L91.07 290.26 L96.72 290.26 Z" fill="none" stroke="#00ffff" stroke-width="1.3" stroke-linejoin="miter"/>
<path d="M98.18 286.25 L95.35 291.11 L101 291.11 Z" fill="none" stroke="#00ffff" stroke-width="1.3" stroke-linejoin="miter"/>
<path d="M102.46 287.48 L99.64 292.34 L105.29 292.34 Z" fill="none" stroke="#00ffff" stroke-width="1.3" stroke-linejoin="miter"/>
<path d="M106.75 288.99 L103.92 293.85 L109.57 293.85 Z" fill="none" stroke="#00ffff" stroke-width="1.3" stroke-linejoin="miter"/>
<path d="M111.03 290.5 L108.21 295.36 L113.86 295.36 Z" fill="none" stroke="#00ffff" stroke-width="1.3" stroke-linejoin="miter"/>
<path d="M115.32 292.09 L112.5 296.95 L118.14 296.95 Z" fill="none" stroke="#00ffff" stroke-width="1.3" stroke-linejoin="miter"/>
<path d="M119.61 293.79 L116.78 298.65 L122.43 298.65 Z" fill="none" stroke="#00ffff" stroke-width="1.3" stroke-linejoin="miter"/>
<path d="M123.89 295.5 L121.07 300.36 L126.71 300.36 Z" fill="none" stroke="#00ffff" stroke-width="1.3" stroke-linejoin="miter"/>
<path d="M128.18 297.43 L125.35 302.29 L131 302.29 Z" fill="none" stroke="#00ffff" stroke-width="1.3" stroke-linejoin="miter"/>
<path d="M132.46 300.17 L129.64 305.03 L135.29 305.03 Z" fill="none" stroke="#00ffff" stroke-width="1.3" stroke-linejoin="miter"/>
<path d="M136.75 302.91 L133.92 307.77 L139.57 307.77 Z" fill="none" stroke="#00ffff" stroke-width="1.3" stroke-linejoin="miter"/>
<path d="M141.03 305.65 L138.21 310.51 L143.86 310.51 Z" fill="none" stroke="#00ffff" stroke-width="1.3" stroke-linejoin="miter"/>
<path d="M145.32 307.57 L142.49 312.44 L148.14 312.44 Z" fill="none" stroke="#00ffff" stroke-width="1.3" stroke-linejoin="miter"/>
<path d="M149.6 310.57 L146.78 315.43 L152.43 315.43 Z" fill="none" stroke="#00ffff" stroke-width="1.3" stroke-linejoin="miter"/>
<path d="M153.89 314.4 L151.07 319.26 L156.71 319.26 Z" fill="none" stroke="#00ffff" stroke-width="1.3" stroke-linejoin="miter"/>
<path d="M158.18 319.52 L155.35 324.38 L161 324.38 Z" fill="none" stroke="#00ffff" stroke-width="1.3" stroke-linejoin="miter"/>
<path d="M162.46 326.53 L159.64 331.39 L165.28 331.39 Z" fill="none" stroke="#00ffff" stroke-width="1.3" stroke-linejoin="miter"/>
<path d="M166.75 332.4 L163.92 337.26 L169.57 337.26 Z" fill="none" stroke="#00ffff" stroke-width="1.3" stroke-linejoin="miter"/>
<path d="M171.03 343.15 L168.21 348.01 L173.86 348.01 Z" fill="none" stroke="#00ffff" stroke-width="1.3" stroke-linejoin="miter"/>
<path d="M175.32 355.15 L172.49 360.01 L178.14 360.01 Z" fill="none" stroke="#00ffff" stroke-width="1.3" stroke-linejoin="miter"/>
<path d="M179.6 367.56 L176.78 372.42 L182.43 372.42 Z" fill="none" stroke="#00ffff" stroke-width="1.3" stroke-linejoin="miter"/>
<path d="M183.89 380.86 L181.06 385.72 L186.71 385.72 Z" fill="none" stroke="#00ffff" stroke-width="1.3" stroke-linejoin="miter"/>
<path d="M188.17 393.53 L185.35 398.39 L191 398.39 Z" fill="none" stroke="#00ffff" stroke-width="1.3" stroke-linejoin="miter"/>
<path d="M192.46 402.65 L189.64 407.51 L195.28 407.51 Z" fill="none" stroke="#00ffff" stroke-width="1.3" stroke-linejoin="miter"/>
<path d="M196.74 412.24 L193.92 417.1 L199.57 417.1 Z" fill="none" stroke="#00ffff" stroke-width="1.3" stroke-linejoin="miter"/>
<path d="M201.03 416.92 L198.21 421.78 L203.85 421.78 Z" fill="none" stroke="#00ffff" stroke-width="1.3" stroke-linejoin="miter"/>
<path d="M205.32 421.12 L202.49 425.99 L208.14 425.99 Z" fill="none" stroke="#00ffff" stroke-width="1.3" stroke-linejoin="miter"/>
<path d="M209.6 425.21 L206.78 430.07 L212.43 430.07 Z" fill="none" stroke="#00ffff" stroke-width="1.3" stroke-linejoin="miter"/>
<path d="M213.89 428.34 L211.06 433.2 L216.71 433.2 Z" fill="none" stroke="#00ffff" stroke-width="1.3" stroke-linejoin="miter"/>
<path d="M218.17 430.99 L215.35 435.85 L221 435.85 Z" fill="none" stroke="#00ffff" stroke-width="1.3" stroke-linejoin="miter"/>
<path d="M222.46 433.27 L219.63 438.13 L225.28 438.13 Z" fill="none" stroke="#00ffff" stroke-width="1.3" stroke-linejoin="miter"/>
<path d="M226.74 435.4 L223.92 440.26 L229.57 440.26 Z" fill="none" stroke="#00ffff" stroke-width="1.3" stroke-linejoin="miter"/>
<path d="M231.03 437.45 L228.21 442.31 L233.85 442.31 Z" fill="none" stroke="#00ffff" stroke-width="1.3" stroke-linejoin="miter"/>
<path d="M235.31 439.31 L232.49 444.17 L238.14 444.17 Z" fill="none" stroke="#00ffff" stroke-width="1.3" stroke-linejoin="miter"/>
<path d="M239.6 441.21 L236.78 446.07 L242.42 446.07 Z" fill="none" stroke="#00ffff" stroke-width="1.3" stroke-linejoin="miter"/>
<path d="M170.33 356.85 L178.82 384.45 L187.3 409.55 L195.79 424.35 L204.27 433.55 L212.76 439.35 L221.24 444.25 L229.73 447.75 L238.22 450.15 L246.7 452.45 L255.19 453.85" fill="none" stroke="#ff00ff" stroke-width="1.15"/>
<path d="M170.33 352.32 L166.38 359.12 L174.28 359.12 Z" fill="#ff00ff"/>
<path d="M178.82 379.92 L174.87 386.72 L182.77 386.72 Z" fill="#ff00ff"/>
<path d="M187.3 405.02 L183.35 411.82 L191.25 411.82 Z" fill="#ff00ff"/>
<path d="M195.79 419.82 L191.84 426.62 L199.74 426.62 Z" fill="#ff00ff"/>
<path d="M204.27 429.02 L200.32 435.82 L208.22 435.82 Z" fill="#ff00ff"/>
<path d="M212.76 434.82 L208.81 441.62 L216.71 441.62 Z" fill="#ff00ff"/>
<path d="M221.24 439.72 L217.29 446.52 L225.19 446.52 Z" fill="#ff00ff"/>
<path d="M229.73 443.22 L225.78 450.02 L233.68 450.02 Z" fill="#ff00ff"/>
<path d="M238.22 445.62 L234.27 452.42 L242.17 452.42 Z" fill="#ff00ff"/>
<path d="M246.7 447.92 L242.75 454.72 L250.65 454.72 Z" fill="#ff00ff"/>
<path d="M255.19 449.32 L251.24 456.12 L259.14 456.12 Z" fill="#ff00ff"/>
<path d="M153.36 333.55 L161.84 348.95 L170.33 380.75 L178.82 407.95 L187.3 426.55 L195.79 437.45 L204.27 443.95 L212.76 447.45 L221.24 450.95 L229.73 453.45 L238.22 455.45 L246.7 456.85 L255.19 457.95" fill="none" stroke="#670748" stroke-width="1.15"/>
<path d="M153.36 336.79 L150.53 331.93 L156.18 331.93 Z" fill="none" stroke="#670748" stroke-width="1.3" stroke-linejoin="miter"/>
<path d="M161.84 352.19 L159.02 347.33 L164.67 347.33 Z" fill="none" stroke="#670748" stroke-width="1.3" stroke-linejoin="miter"/>
<path d="M170.33 383.99 L167.51 379.13 L173.15 379.13 Z" fill="none" stroke="#670748" stroke-width="1.3" stroke-linejoin="miter"/>
<path d="M178.82 411.19 L175.99 406.33 L181.64 406.33 Z" fill="none" stroke="#670748" stroke-width="1.3" stroke-linejoin="miter"/>
<path d="M187.3 429.79 L184.48 424.93 L190.13 424.93 Z" fill="none" stroke="#670748" stroke-width="1.3" stroke-linejoin="miter"/>
<path d="M195.79 440.69 L192.96 435.83 L198.61 435.83 Z" fill="none" stroke="#670748" stroke-width="1.3" stroke-linejoin="miter"/>
<path d="M204.27 447.19 L201.45 442.33 L207.1 442.33 Z" fill="none" stroke="#670748" stroke-width="1.3" stroke-linejoin="miter"/>
<path d="M212.76 450.69 L209.93 445.83 L215.58 445.83 Z" fill="none" stroke="#670748" stroke-width="1.3" stroke-linejoin="miter"/>
<path d="M221.24 454.19 L218.42 449.33 L224.07 449.33 Z" fill="none" stroke="#670748" stroke-width="1.3" stroke-linejoin="miter"/>
<path d="M229.73 456.69 L226.91 451.83 L232.55 451.83 Z" fill="none" stroke="#670748" stroke-width="1.3" stroke-linejoin="miter"/>
<path d="M238.22 458.69 L235.39 453.83 L241.04 453.83 Z" fill="none" stroke="#670748" stroke-width="1.3" stroke-linejoin="miter"/>
<path d="M246.7 460.09 L243.88 455.23 L249.53 455.23 Z" fill="none" stroke="#670748" stroke-width="1.3" stroke-linejoin="miter"/>
<path d="M255.19 461.19 L252.36 456.33 L258.01 456.33 Z" fill="none" stroke="#670748" stroke-width="1.3" stroke-linejoin="miter"/>
<path d="M153.36 343.35 L161.84 364.45 L170.33 397.85 L178.82 423.15 L187.3 436.85 L195.79 445.05 L204.27 451.35 L212.76 455.35 L221.24 458.55 L229.73 460.55 L238.22 461.85 L246.7 463.05 L255.19 463.85" fill="none" stroke="#008b00" stroke-width="1.15"/>
<path d="M153.36 347.88 L149.41 341.08 L157.31 341.08 Z" fill="#008b00"/>
<path d="M161.84 368.98 L157.89 362.18 L165.79 362.18 Z" fill="#008b00"/>
<path d="M170.33 402.38 L166.38 395.58 L174.28 395.58 Z" fill="#008b00"/>
<path d="M178.82 427.68 L174.87 420.88 L182.77 420.88 Z" fill="#008b00"/>
<path d="M187.3 441.38 L183.35 434.58 L191.25 434.58 Z" fill="#008b00"/>
<path d="M195.79 449.58 L191.84 442.78 L199.74 442.78 Z" fill="#008b00"/>
<path d="M204.27 455.88 L200.32 449.08 L208.22 449.08 Z" fill="#008b00"/>
<path d="M212.76 459.88 L208.81 453.08 L216.71 453.08 Z" fill="#008b00"/>
<path d="M221.24 463.08 L217.29 456.28 L225.19 456.28 Z" fill="#008b00"/>
<path d="M229.73 465.08 L225.78 458.28 L233.68 458.28 Z" fill="#008b00"/>
<path d="M238.22 466.38 L234.27 459.58 L242.17 459.58 Z" fill="#008b00"/>
<path d="M246.7 467.58 L242.75 460.78 L250.65 460.78 Z" fill="#008b00"/>
<path d="M255.19 468.38 L251.24 461.58 L259.14 461.58 Z" fill="#008b00"/></g>
<path d="M68.4 2 H365.5 V477.6 H68.4 Z" fill="none" stroke="#000" stroke-width="2.1" stroke-linejoin="miter"/><line x1="68.4" y1="240" x2="365.5" y2="240" stroke="#000" stroke-width="2.1"/>
<line x1="110.93" y1="2" x2="110.93" y2="13.5" stroke="#000" stroke-width="1.15"/>
<line x1="110.93" y1="228.5" x2="110.93" y2="251.5" stroke="#000" stroke-width="1.15"/>
<line x1="110.93" y1="466.1" x2="110.93" y2="477.6" stroke="#000" stroke-width="1.15"/>
<line x1="153.36" y1="2" x2="153.36" y2="8" stroke="#000" stroke-width="1.15"/>
<line x1="153.36" y1="234" x2="153.36" y2="246" stroke="#000" stroke-width="1.15"/>
<line x1="153.36" y1="471.6" x2="153.36" y2="477.6" stroke="#000" stroke-width="1.15"/>
<line x1="195.79" y1="2" x2="195.79" y2="13.5" stroke="#000" stroke-width="1.15"/>
<line x1="195.79" y1="228.5" x2="195.79" y2="251.5" stroke="#000" stroke-width="1.15"/>
<line x1="195.79" y1="466.1" x2="195.79" y2="477.6" stroke="#000" stroke-width="1.15"/>
<line x1="238.22" y1="2" x2="238.22" y2="8" stroke="#000" stroke-width="1.15"/>
<line x1="238.22" y1="234" x2="238.22" y2="246" stroke="#000" stroke-width="1.15"/>
<line x1="238.22" y1="471.6" x2="238.22" y2="477.6" stroke="#000" stroke-width="1.15"/>
<line x1="280.65" y1="2" x2="280.65" y2="13.5" stroke="#000" stroke-width="1.15"/>
<line x1="280.65" y1="228.5" x2="280.65" y2="251.5" stroke="#000" stroke-width="1.15"/>
<line x1="280.65" y1="466.1" x2="280.65" y2="477.6" stroke="#000" stroke-width="1.15"/>
<line x1="323.07" y1="2" x2="323.07" y2="8" stroke="#000" stroke-width="1.15"/>
<line x1="323.07" y1="234" x2="323.07" y2="246" stroke="#000" stroke-width="1.15"/>
<line x1="323.07" y1="471.6" x2="323.07" y2="477.6" stroke="#000" stroke-width="1.15"/>
<line x1="68.4" y1="212.49" x2="74.4" y2="212.49" stroke="#000" stroke-width="1.15"/>
<line x1="359.5" y1="212.49" x2="365.5" y2="212.49" stroke="#000" stroke-width="1.15"/>
<line x1="68.4" y1="185.5" x2="79.9" y2="185.5" stroke="#000" stroke-width="1.15"/>
<line x1="354" y1="185.5" x2="365.5" y2="185.5" stroke="#000" stroke-width="1.15"/>
<line x1="68.4" y1="158.51" x2="74.4" y2="158.51" stroke="#000" stroke-width="1.15"/>
<line x1="359.5" y1="158.51" x2="365.5" y2="158.51" stroke="#000" stroke-width="1.15"/>
<line x1="68.4" y1="131.52" x2="79.9" y2="131.52" stroke="#000" stroke-width="1.15"/>
<line x1="354" y1="131.52" x2="365.5" y2="131.52" stroke="#000" stroke-width="1.15"/>
<line x1="68.4" y1="104.53" x2="74.4" y2="104.53" stroke="#000" stroke-width="1.15"/>
<line x1="359.5" y1="104.53" x2="365.5" y2="104.53" stroke="#000" stroke-width="1.15"/>
<line x1="68.4" y1="77.54" x2="79.9" y2="77.54" stroke="#000" stroke-width="1.15"/>
<line x1="354" y1="77.54" x2="365.5" y2="77.54" stroke="#000" stroke-width="1.15"/>
<line x1="68.4" y1="50.55" x2="74.4" y2="50.55" stroke="#000" stroke-width="1.15"/>
<line x1="359.5" y1="50.55" x2="365.5" y2="50.55" stroke="#000" stroke-width="1.15"/>
<line x1="68.4" y1="23.56" x2="79.9" y2="23.56" stroke="#000" stroke-width="1.15"/>
<line x1="354" y1="23.56" x2="365.5" y2="23.56" stroke="#000" stroke-width="1.15"/>
<line x1="68.4" y1="447.77" x2="74.4" y2="447.77" stroke="#000" stroke-width="1.15"/>
<line x1="359.5" y1="447.77" x2="365.5" y2="447.77" stroke="#000" stroke-width="1.15"/>
<line x1="68.4" y1="418.1" x2="79.9" y2="418.1" stroke="#000" stroke-width="1.15"/>
<line x1="354" y1="418.1" x2="365.5" y2="418.1" stroke="#000" stroke-width="1.15"/>
<line x1="68.4" y1="388.42" x2="74.4" y2="388.42" stroke="#000" stroke-width="1.15"/>
<line x1="359.5" y1="388.42" x2="365.5" y2="388.42" stroke="#000" stroke-width="1.15"/>
<line x1="68.4" y1="358.75" x2="79.9" y2="358.75" stroke="#000" stroke-width="1.15"/>
<line x1="354" y1="358.75" x2="365.5" y2="358.75" stroke="#000" stroke-width="1.15"/>
<line x1="68.4" y1="329.07" x2="74.4" y2="329.07" stroke="#000" stroke-width="1.15"/>
<line x1="359.5" y1="329.07" x2="365.5" y2="329.07" stroke="#000" stroke-width="1.15"/>
<line x1="68.4" y1="299.4" x2="79.9" y2="299.4" stroke="#000" stroke-width="1.15"/>
<line x1="354" y1="299.4" x2="365.5" y2="299.4" stroke="#000" stroke-width="1.15"/>
<line x1="68.4" y1="269.72" x2="74.4" y2="269.72" stroke="#000" stroke-width="1.15"/>
<line x1="359.5" y1="269.72" x2="365.5" y2="269.72" stroke="#000" stroke-width="1.15"/>
<rect x="74.5" y="340.7" width="65.8" height="122.9" fill="#fff" stroke="#000" stroke-width="1"/>
<circle cx="92.1" cy="351.1" r="2.75" fill="none" stroke="#ff0000" stroke-width="1.4"/>
<text x="125.5" y="355.7" text-anchor="middle" style="font-family:'Liberation Serif',serif;font-size:13px">10</text>
<circle cx="92.1" cy="365.7" r="3.6" fill="#00ff00"/>
<text x="125.5" y="370.3" text-anchor="middle" style="font-family:'Liberation Serif',serif;font-size:13px">20</text>
<rect x="89.6" y="377.8" width="5" height="5" fill="none" stroke="#0000ff" stroke-width="1.4"/>
<text x="125.5" y="384.9" text-anchor="middle" style="font-family:'Liberation Serif',serif;font-size:13px">30</text>
<rect x="89" y="391.8" width="6.2" height="6.2" fill="#9400d3"/>
<text x="125.5" y="399.5" text-anchor="middle" style="font-family:'Liberation Serif',serif;font-size:13px">40</text>
<path d="M92.1 406.36 L89.36 411.07 L94.84 411.07 Z" fill="none" stroke="#00ffff" stroke-width="1.4" stroke-linejoin="miter"/>
<text x="125.5" y="414.1" text-anchor="middle" style="font-family:'Liberation Serif',serif;font-size:13px">50</text>
<path d="M92.1 419.57 L88.15 426.37 L96.05 426.37 Z" fill="#ff00ff"/>
<text x="125.5" y="428.7" text-anchor="middle" style="font-family:'Liberation Serif',serif;font-size:13px">60</text>
<path d="M92.1 441.84 L89.36 437.13 L94.84 437.13 Z" fill="none" stroke="#670748" stroke-width="1.4" stroke-linejoin="miter"/>
<text x="125.5" y="443.3" text-anchor="middle" style="font-family:'Liberation Serif',serif;font-size:13px">80</text>
<path d="M92.1 457.83 L88.15 451.03 L96.05 451.03 Z" fill="#008b00"/>
<text x="125.5" y="457.9" text-anchor="middle" style="font-family:'Liberation Serif',serif;font-size:13px">100</text>
<text x="63.1" y="29.31" text-anchor="end" style="font-family:'Liberation Serif',serif;font-size:16.8px">200</text>
<text x="37.7" y="83.29" style="font-family:'Liberation Serif',serif;font-size:16.8px">1</text>
<text x="63.1" y="83.29" text-anchor="end" style="font-family:'Liberation Serif',serif;font-size:16.8px">50</text>
<text x="37.7" y="137.27" style="font-family:'Liberation Serif',serif;font-size:16.8px">1</text>
<text x="63.1" y="137.27" text-anchor="end" style="font-family:'Liberation Serif',serif;font-size:16.8px">00</text>
<text x="63.1" y="191.25" text-anchor="end" style="font-family:'Liberation Serif',serif;font-size:16.8px">50</text>
<text x="63.1" y="245.8" text-anchor="end" style="font-family:'Liberation Serif',serif;font-size:16.8px">0,80</text>
<text x="63.1" y="305.15" text-anchor="end" style="font-family:'Liberation Serif',serif;font-size:16.8px">0,60</text>
<text x="63.1" y="364.5" text-anchor="end" style="font-family:'Liberation Serif',serif;font-size:16.8px">0,40</text>
<text x="63.1" y="423.85" text-anchor="end" style="font-family:'Liberation Serif',serif;font-size:16.8px">0,20</text>
<text x="63.1" y="483.2" text-anchor="end" style="font-family:'Liberation Serif',serif;font-size:16.8px">0,00</text>
<text x="110.93" y="494.4" text-anchor="middle" style="font-family:'Liberation Serif',serif;font-size:16.6px">0,42</text>
<text x="195.79" y="494.4" text-anchor="middle" style="font-family:'Liberation Serif',serif;font-size:16.6px">0,44</text>
<text x="280.65" y="494.4" text-anchor="middle" style="font-family:'Liberation Serif',serif;font-size:16.6px">0,46</text>
<g fill="#0000ff" style="font-family:'Liberation Serif',serif"><text transform="translate(229.2,69.4) scale(1.12,1)" font-size="24">&#956;</text><text x="242.1" y="69.6" font-size="21">/</text><text transform="translate(248.3,69.4) scale(1.3,1)" font-size="20.4">&#949;</text><text transform="translate(262.9,71.5) scale(1.14,1)" font-size="22.5">=</text><text x="281.9" y="69.4" font-size="22.5">&#8211;0.</text><text x="308.35" y="69.4" font-size="22.5">5</text><text x="230.8" y="108.9" font-size="22.5">H</text><text transform="translate(250.7,111) scale(1.14,1)" font-size="22.5">=</text><text x="270.3" y="108.9" font-size="22.5">1</text></g>
<g transform="translate(21.5,149) rotate(-90)" style="font-family:'Liberation Sans',sans-serif"><text x="0.3" y="0" font-size="28.5" font-family="Liberation Serif, serif">&#967;</text><text x="14.8" y="0.2" font-size="25">(</text><text x="23.4" y="0" font-size="28.6" font-family="Liberation Serif, serif">&#955;</text><text x="37.75" y="12" font-size="19">+</text><text x="48.9" y="0.2" font-size="25">)</text></g>
<text transform="translate(2.9,364.7) scale(1.08,1)" style="font-family:'Liberation Serif',serif;font-size:28.4px">&#955;</text>
<text x="17.1" y="376" style="font-family:'Liberation Serif',serif;font-size:21px">+</text>
<text x="202.8" y="535.8" style="font-family:'Liberation Serif',serif;font-size:31.4px">T</text>
<text x="221.55" y="517.2" style="font-family:'Liberation Serif',serif;font-size:19px">*</text>
</svg>
</body></html>
